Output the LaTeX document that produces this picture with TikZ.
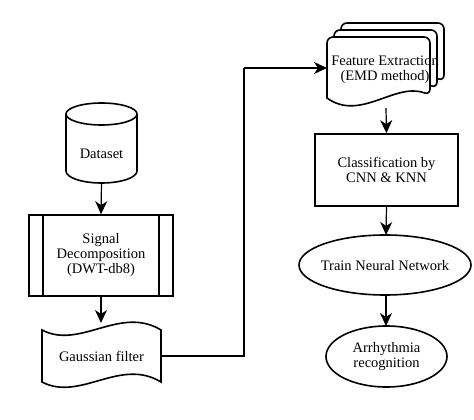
\documentclass[tikz,border=0pt]{standalone}
\usepackage{fontspec}
\setmainfont{Liberation Serif}
\usetikzlibrary{arrows.meta}
\begin{document}
\begin{tikzpicture}[x=1pt,y=-1pt,
  shp/.style={line width=1.6pt},
  conn/.style={line width=1.2pt,-{Stealth[length=13pt,width=12pt,inset=4pt]}},
  plain/.style={line width=1.2pt},
  txt/.style={font=\fontsize{14.5}{15}\selectfont,align=center,inner sep=0pt},
]
\useasboundingbox (0,0) rectangle (474,420);
% Dataset cylinder
\draw[shp] (66,114) -- (66,171) arc[start angle=180,end angle=360,x radius=35.5pt,y radius=12pt] -- (137,114);
\draw[shp] (101.5,114) ellipse [x radius=35.5pt, y radius=11pt];
\node[txt,minimum width=71pt,minimum height=80pt] (ds) at (101.5,143) {};
\node[txt] (dst) at (101.5,154) {Dataset};
% Signal decomposition
\node[txt,draw,shp,minimum width=144pt,minimum height=81pt] (sig) at (101,255.5) {Signal\\Decomposition\\(DWT-db8)};
\draw[shp] ([xshift=15pt]sig.north west) -- ([xshift=15pt]sig.south west);
\draw[shp] ([xshift=-15pt]sig.north east) -- ([xshift=-15pt]sig.south east);
% Gaussian filter (tape)
\draw[shp] (42,330) .. controls (80,350) and (120,305) .. (161,330) -- (161,382) .. controls (120,357) and (80,402) .. (42,382) -- cycle;
\node[txt,minimum width=119pt,minimum height=52pt] (gf) at (101.5,356) {Gaussian filter};
% Feature extraction (multi document)
\foreach \d in {14,7,0}{
  \draw[shp,fill=white,rounded corners=6pt] (327+\d,98-\d) -- (327+\d,37-\d) -- (430+\d,37-\d) -- (430+\d,95-\d)
    [sharp corners] .. controls (395+\d,82-\d) and (360+\d,122-\d) .. (327+\d,98-\d) -- cycle;
}
\node[txt,minimum width=103pt,minimum height=62pt] (fe) at (378.5,68) {};
\node[txt] (fet) at (385,70) {Feature Extraction\\(EMD method)};
\coordinate (feb) at (386,108);
% Classification
\node[txt,draw,shp,minimum width=143pt,minimum height=72pt] (cl) at (386.5,170) {Classification by\\CNN \& KNN};
% Train NN
\draw[shp] (385,265) ellipse [x radius=86pt, y radius=30pt];
\coordinate (trn) at (386,235);
\coordinate (trs) at (386,295);
\node[txt] (tr) at (385,266) {Train Neural Network};
% Arrhythmia
\draw[shp] (386.5,356.5) ellipse [x radius=60.5pt, y radius=30.5pt];
\coordinate (arn) at (386,326);
\node[txt] (ar) at (386.5,357) {Arrhythmia\\recognition};
% connectors
\coordinate (bend1) at (244,356);
\coordinate (bend2) at (244,68);
\coordinate (fein) at (327,68);
\draw[conn] (ds.south) -- (sig.north);
\draw[conn] (sig.south) -- (101,323);
\draw[plain] (gf.east) -- (bend1) -- (bend2);
\draw[conn] (bend2) -- (fein);
\draw[conn] (feb) -- (cl.north);
\draw[conn] (cl.south) -- (trn);
\draw[conn] (trs) -- (arn);
\end{tikzpicture}
\end{document}
